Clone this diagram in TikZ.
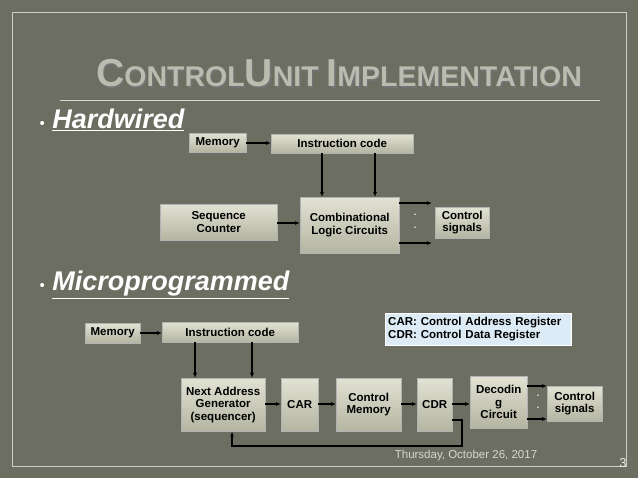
\documentclass[tikz,border=0pt]{standalone}
\usepackage{fontspec}
\setmainfont{Liberation Sans}
\usetikzlibrary{arrows.meta}
\definecolor{bg}{HTML}{6B6E60}
\definecolor{boxtop}{HTML}{E2E2D4}
\definecolor{boxbot}{HTML}{B4B4A2}
\definecolor{ttl}{HTML}{B9BCAE}
\definecolor{infob}{HTML}{DCEBF6}
\tikzset{
  blk/.style={draw=black!30,top color=boxtop,bottom color=boxbot,font=\bfseries\fontsize{11.5}{12.5}\selectfont,align=center,inner sep=0pt,anchor=north west},
  arr/.style={-{Latex[length=5pt,width=4pt]},line width=1.4pt},
  hd/.style={font=\bfseries\itshape\fontsize{27}{30}\selectfont,text=white,anchor=west},
  dot/.style={text=white,font=\bfseries\small,inner sep=0pt}
}
\newcommand{\bx}[6]{\node[blk,minimum width=#4-#2 pt,minimum height=#5-#3 pt] (#1) at (#2,#3) {#6};}
\newcommand{\ttltext}{\bfseries\fontsize{39}{40}\selectfont C\fontsize{28.5}{30}\selectfont ONTROL\fontsize{39}{40}\selectfont U\fontsize{28.5}{30}\selectfont NIT \fontsize{39}{40}\selectfont I\fontsize{28.5}{30}\selectfont MPLEMENTATION}
\begin{document}
\begin{tikzpicture}[x=1pt,y=-1pt]
\fill[bg] (0,0) rectangle (638,478);
\useasboundingbox (0,0) rectangle (638,478);
\draw[ttl!70,line width=0.6pt] (12,12) rectangle (626,466);
\draw[ttl!60,line width=0.6pt] (60,100) -- (600,100);
\node[anchor=base,text=black!55,inner sep=0pt] (titleshadow) at (340.5,88.5) {\ttltext};
\node[anchor=base,text=ttl,inner sep=0pt] (title) at (339,87) {\ttltext};
\node[hd] (h1) at (36,120) {{\normalfont\fontsize{15}{15}\selectfont •} \underline{Hardwired}};
\node[hd] (h2) at (36,285) {{\normalfont\fontsize{15}{15}\selectfont •} \underline{Microprogrammed}};
% hardwired
\bx{m1}{189}{133}{246}{152}{Memory}
\bx{i1}{271}{134}{413}{153}{Instruction code}
\bx{s1}{160}{204}{277}{240}{Sequence\\Counter}
\bx{c1}{300}{197}{399}{253}{Combinational\\Logic Circuits}
\bx{o1}{435}{207}{489}{238}{Control\\signals}
\draw[arr] (m1.east |- 0,143) -- (i1.west |- 0,143);
\draw[arr] (i1.south -| 322,0) -- (c1.north -| 322,0);
\draw[arr] (i1.south -| 375,0) -- (c1.north -| 375,0);
\draw[arr] (s1.east |- 0,223) -- (c1.west |- 0,223);
\coordinate (o1a) at (432,203); \coordinate (o1b) at (432,243);
\draw[arr] (c1.east |- o1a) -- (o1a);
\draw[arr] (c1.east |- o1b) -- (o1b);
\node[dot] (d1) at (415,215) {.};
\node[dot] (d2) at (415,228) {.};
% micro
\bx{m2}{85}{323}{140}{343}{Memory}
\bx{i2}{162}{322}{298}{342}{Instruction code}
\node[draw=white,fill=infob,anchor=north west,minimum width=186pt,minimum height=32pt,align=left,font=\bfseries\fontsize{11.5}{13}\selectfont,inner sep=3pt,text width=180pt] (info) at (385,313) {CAR: Control Address Register\\CDR: Control Data Register};
\bx{n2}{181}{378}{265}{431}{Next Address\\Generator\\(sequencer)}
\bx{car}{281}{378}{318}{431}{CAR}
\bx{cm}{336}{378}{401}{431}{Control\\Memory}
\bx{cdr}{417}{378}{452}{431}{CDR}
\bx{dec}{470}{376}{527}{428}{Decodin\\g\\Circuit}
\bx{o2}{547}{386}{602}{421}{Control\\signals}
\draw[arr] (m2.east |- 0,333) -- (i2.west |- 0,333);
\draw[arr] (i2.south -| 195,0) -- (n2.north -| 195,0);
\draw[arr] (i2.south -| 252,0) -- (n2.north -| 252,0);
\draw[arr] (n2.east |- 0,404) -- (car.west |- 0,404);
\draw[arr] (car.east |- 0,404) -- (cm.west |- 0,404);
\draw[arr] (cm.east |- 0,404) -- (cdr.west |- 0,404);
\draw[arr] (cdr.east |- 0,404) -- (dec.west |- 0,404);
\draw[arr] (cdr.east |- 0,420) -- (462,420) -- (462,446) -- (232,446) -- (n2.south -| 232,0);
\draw[arr] (dec.east |- 0,386) -- (o2.west |- 0,386);
\draw[arr] (dec.east |- 0,419) -- (o2.west |- 0,419);
\node[dot] (d3) at (538,396) {.};
\node[dot] (d4) at (538,408) {.};
\node[text=ttl!60,font=\fontsize{11.5}{12}\selectfont] (date) at (466,456) {Thursday, October 26, 2017};
\node[text=white!85!bg,font=\fontsize{13}{14}\selectfont] (pg) at (623,463) {3};
\end{tikzpicture}
\end{document}
